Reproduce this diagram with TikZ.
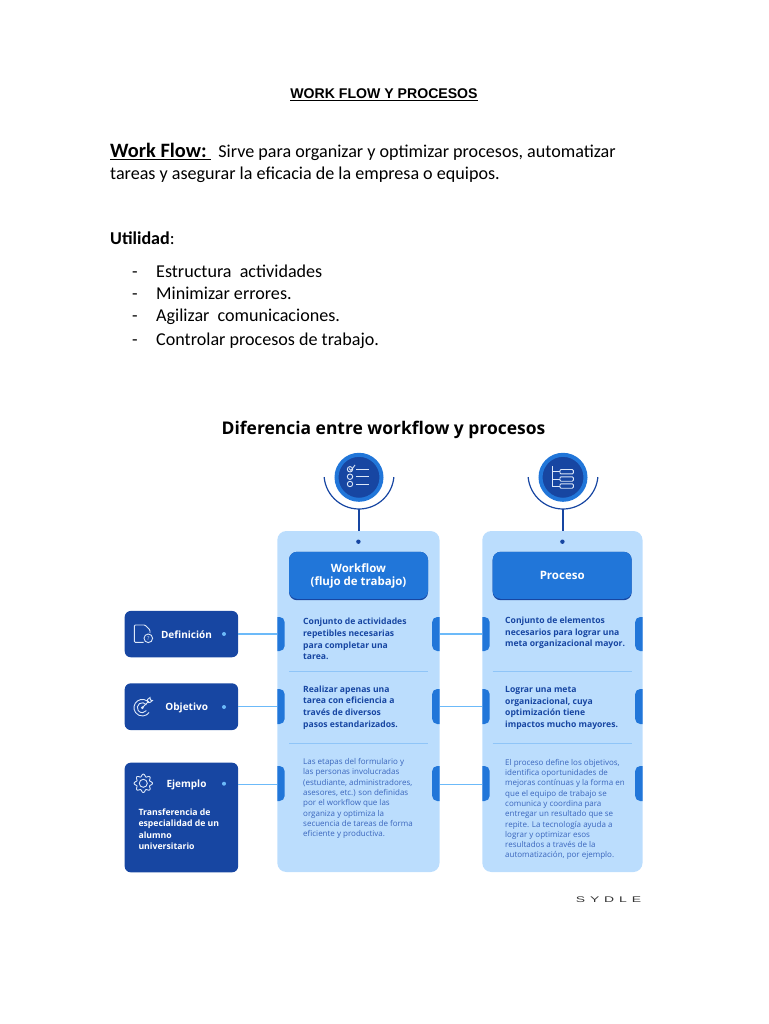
\documentclass[tikz,border=0pt]{standalone}
\usepackage{fontspec}
\setmainfont{Carlito}
\newfontfamily\arialfont{Liberation Sans}
\newfontfamily\sydlefont{Open Sans}
\newfontfamily\logofont[LetterSpace=60,FakeStretch=1.7]{Liberation Sans}
\definecolor{wfdark}{HTML}{1746A2}
\definecolor{wfmid}{HTML}{2176D9}
\definecolor{wfcard}{HTML}{BBDDFD}
\definecolor{wfline}{HTML}{6CBAF9}
\definecolor{wfsoft}{HTML}{3A66BD}
\definecolor{wfglyph}{HTML}{DCE7F8}
\definecolor{wfrule}{HTML}{8FC5F8}
\tikzset{
    pagetext/.style={anchor=base west,inner sep=0pt,font=\fontsize{18.1}{20}\selectfont},
    dashmark/.style={anchor=base,inner sep=0pt,font=\fontsize{18.1}{20}\selectfont},
    cardbox/.style={rectangle,fill=wfcard,rounded corners=9pt,minimum height=341pt,inner sep=0pt},
    headbase/.style={rectangle,fill=wfdark,rounded corners=8pt,minimum width=139pt,minimum height=48.4pt,inner sep=0pt},
    headbox/.style={rectangle,fill=wfmid,rounded corners=8pt,minimum width=139pt,minimum height=47pt,inner sep=0pt,text=white,align=center,font=\sydlefont\bfseries\fontsize{11.5}{13}\selectfont},
    sidebox/.style={rectangle,fill=wfdark,rounded corners=6pt,minimum width=113.4pt,inner sep=0pt},
    sidelabel/.style={inner sep=0pt,text=white,font=\sydlefont\bfseries\fontsize{10}{11}\selectfont},
    iconball/.style={circle,fill=wfdark,draw=wfmid,line width=4pt,minimum size=45pt,inner sep=0pt},
    boldtext/.style={anchor=west,align=left,inner sep=0pt,text=wfdark,font=\sydlefont\bfseries\fontsize{8.6}{11.6}\selectfont},
    softtext/.style={anchor=west,align=left,inner sep=0pt,text=wfsoft,font=\sydlefont\fontsize{8}{10.3}\selectfont},
    glyphline/.style={draw=wfglyph,line width=0.9pt},
    stemline/.style={draw=wfdark,line width=1.2pt},
    linkline/.style={draw=wfline,line width=1.5pt},
}
\def\ballwf{359}
\def\ballpr{563}
\begin{document}
\begin{tikzpicture}[x=1pt,y=-1pt]
    \useasboundingbox (0,0) rectangle (768,1024);

    \node[anchor=base,inner sep=0pt,font=\arialfont\bfseries\fontsize{14.1}{16}\selectfont] (titledoc) at (384,98.5) {\underline{WORK FLOW Y PROCESOS}};
    \node[pagetext] (workflow) at (110,158) {\underline{\fontsize{20.4}{22}\selectfont\bfseries Work Flow:\ }\ \,Sirve para organizar y optimizar procesos, automatizar};
    \node[pagetext] (workflowb) at (110,180) {tareas y asegurar la eficacia de la empresa o equipos.};
    \node[pagetext] (utilidad) at (110,244.5) {\textbf{Utilidad}:};
    \foreach \y/\txt [count=\n] in {277/Estructura\ \ actividades,299/Minimizar errores.,321.5/Agilizar\ \ comunicaciones.,345/Controlar procesos de trabajo.} {
        \node[dashmark] (dash\n) at (135,\y) {-};
        \node[pagetext] (item\n) at (156,\y) {\txt};
    }

    \node[inner sep=0pt,font=\sydlefont\bfseries\fontsize{17.45}{20}\selectfont] (titlefig) at (383.5,429.5) {Diferencia entre workflow y procesos};

    \node[cardbox,minimum width=162.2pt] (cardwf) at (358.4,701.5) {};
    \node[cardbox,minimum width=160.2pt] (cardpr) at (562.4,701.5) {};
    \node[headbase] (basewf) at (358.5,576) {};
    \node[headbase] (basepr) at (562.2,576) {};
    \node[headbox] (headwf) at (358.5,575.3) {\rule{0pt}{10pt}Workflow\\(flujo de trabajo)};
    \node[headbox] (headpr) at (562.2,575.3) {Proceso};

    \node[sidebox,minimum height=46.3pt] (definicion) at (181.4,634.1) {};
    \node[sidebox,minimum height=46.7pt] (objetivo) at (181.4,706.7) {};
    \node[sidebox,minimum height=109.6pt] (ejemplo) at (181.4,817.5) {};
    \coordinate (ejemplolink) at (238.1,784.3);

    \foreach \from in {definicion,objetivo,ejemplolink} {
        \draw[linkline] (\from) -- (cardwf.west|-\from);
        \draw[linkline] (cardwf.east|-\from) -- (cardpr.west|-\from);
    }

    \foreach \ya/\yb in {617/651,689/724,766/801} {
        \foreach \xe/\d in {277.3/1,482.3/1,439.5/-1,642.5/-1} {
            \fill[wfmid] (\xe,\ya) [rounded corners=5pt] -- ++(7.3*\d,0) -- ++(0,\yb-\ya) [sharp corners] -- (\xe,\yb) -- cycle;
        }
    }
    \foreach \y in {671,743.5} {
        \draw[wfrule,line width=0.6pt] (289.3,\y) -- (428,\y);
        \draw[wfrule,line width=0.6pt] (492.7,\y) -- (631.7,\y);
    }

    \foreach \x/\name in {\ballwf/wf,\ballpr/pr} {
        \node[iconball] (ball\name) at (\x,477.3) {};
        \draw[stemline] (\x,474)++(175:35) arc[start angle=175,end angle=5,radius=35];
        \coordinate (arc\name) at (\x,509);
        \draw[stemline] (arc\name) -- (arc\name|-card\name.north);
        \fill[wfdark] (\x-0.6,541.7) circle (2.2);
    }

    \foreach \y in {469.3,476.7,484} {
        \draw[glyphline] (350,\y) circle (2.7);
        \draw[glyphline,line width=1pt] (356,\y) -- (369.3,\y);
    }
    \draw[glyphline] (349,468.5) -- (351,470.5) -- (355,465);

    \draw[glyphline] (552.7,466) -- (552.7,486) -- (560,486);
    \foreach \y in {471.7,479,486} {
        \draw[glyphline] (552.7,\y) -- (560,\y);
        \draw[glyphline,rounded corners=1pt] (560,\y-2.2) rectangle (573.3,\y+2.2);
    }

    \draw[glyphline,rounded corners=1pt] (143.5,642.3) -- (134.3,642.3) -- (134.3,625) -- (145,625) -- (150,630) -- (150,633);
    \draw[glyphline] (148.3,638.3) circle (4.3);
    \node[inner sep=0pt,text=wfglyph,font=\sydlefont\fontsize{5.5}{6}\selectfont] (docmark) at (148.3,638.3) {?};

    \draw[glyphline] (142.3,707.7)++(-35:8.3) arc[start angle=-35,end angle=-325,radius=8.3];
    \draw[glyphline] (142.3,707.7)++(-35:5) arc[start angle=-35,end angle=-325,radius=5];
    \fill[wfglyph] (142.3,707.7) circle (1.5);
    \draw[glyphline] (142.3,707.7) -- (149,701);
    \draw[glyphline] (147.5,702.5) -- (147.5,699.5) -- (150,697.5) -- (150.5,700) -- (152.5,700.5) -- (150,702.5) -- cycle;

    \draw[glyphline] plot[domain=0:360,samples=97,variable=\t] ({143.3+(8+1.2*cos(8*\t))*cos(\t)},{783.3+(8+1.2*cos(8*\t))*sin(\t)}) -- cycle;
    \draw[glyphline] (143.3,783.3) circle (4);

    \node[sidelabel] (definiciontext) at (186.5,634.7) {Definición};
    \node[sidelabel] (objetivotext) at (186.7,708) {Objetivo};
    \node[sidelabel] (ejemplotext) at (186.5,784.7) {Ejemplo};
    \foreach \y in {634,707,783.7} {
        \fill[wfline] (224,\y) circle (2);
    }
    \node[anchor=west,align=left,inner sep=0pt,text=white,font=\sydlefont\bfseries\fontsize{8.7}{11.5}\selectfont] (ejemplodetail) at (138.3,829) {Transferencia de\\especialidad de un\\alumno\\universitario};

    \node[boldtext] (wfdefinicion) at (303,639) {Conjunto de actividades\\repetibles necesarias\\para completar una\\tarea.};
    \node[boldtext] (wfobjetivo) at (303,707.5) {Realizar apenas una\\tarea con eficiencia a\\través de diversos\\pasos estandarizados.};
    \node[softtext] (wfejemplo) at (303,798.5) {Las etapas del formulario y\\las personas involucradas\\(estudiante, administradores,\\asesores, etc.) son definidas\\por el workflow que las\\organiza y optimiza la\\secuencia de tareas de forma\\eficiente y productiva.};
    \node[boldtext] (prdefinicion) at (505,633) {Conjunto de elementos\\necesarios para lograr una\\meta organizacional mayor.};
    \node[boldtext] (probjetivo) at (505,708) {Lograr una meta\\organizacional, cuya\\optimización tiene\\impactos mucho mayores.};
    \node[softtext] (prejemplo) at (505,809.5) {El proceso define los objetivos,\\identifica oportunidades de\\mejoras contínuas y la forma en\\que el equipo de trabajo se\\comunica y coordina para\\entregar un resultado que se\\repite. La tecnología ayuda a\\lograr y optimizar esos\\resultados a través de la\\automatización, por ejemplo.};

    \node[inner sep=0pt,font=\logofont\fontsize{8.2}{9}\selectfont,text=black!80] (logo) at (608.5,899.2) {SYDLE};
\end{tikzpicture}
\end{document}
